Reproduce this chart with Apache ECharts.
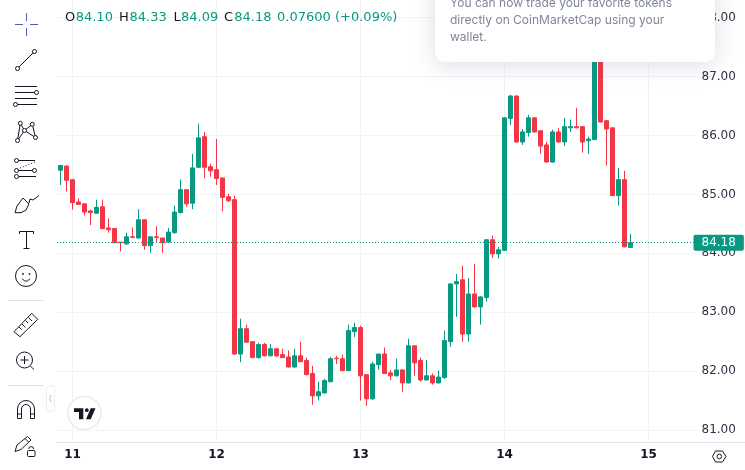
<!Doctype html>
<html>
    <head>
        <meta charset="utf-8">
        <style>
            html, body { margin: 0; padding: 0; background: #fff; }
            #chart { width: 745px; height: 470px; }
        </style>
    </head>
    <body>
        <div id="chart"></div>
        <script src="https://cdn.jsdelivr.net/npm/echarts@6/dist/echarts.min.js"></script>
        <script>
            // Hourly candles
            var opens = [85.41,85.48,85.25,84.87,84.84,84.72,84.68,84.79,84.43,84.42,84.19,84.16,84.28,84.26,84.57,84.13,84.28,84.26,84.19,84.35,84.69,85.08,84.85,85.46,85.98,85.47,85.42,85.28,84.96,84.91,
                82.29,82.72,82.50,82.23,82.45,82.26,82.38,82.28,82.24,82.07,82.26,82.18,81.96,81.58,81.63,81.82,82.22,82.21,82.01,82.67,82.74,81.94,81.53,82.11,82.29,81.97,81.92,82.02,81.80,82.43,
                82.18,81.85,81.92,81.80,81.89,82.50,83.48,83.55,82.63,83.31,83.09,83.25,84.23,83.99,84.05,86.29,86.67,85.89,86.05,86.30,86.08,85.84,85.55,86.06,85.89,86.13,86.15,86.15,85.91,85.93,
                87.50,86.25,86.13,84.98,85.25,84.10];
            var closes = [85.49,85.24,84.86,84.83,84.70,84.69,84.78,84.42,84.40,84.18,84.18,84.28,84.27,84.57,84.13,84.28,84.27,84.18,84.36,84.70,85.08,84.84,85.45,85.96,85.46,85.40,85.27,84.95,84.89,82.29,
                82.72,82.49,82.23,82.45,82.26,82.38,82.26,82.23,82.07,82.26,82.16,81.94,81.58,81.65,81.84,82.21,82.21,82.01,82.69,82.74,81.92,81.53,82.12,82.29,81.96,81.92,82.02,81.80,82.43,82.14,
                81.85,81.92,81.80,81.90,82.52,83.48,83.52,82.63,83.31,83.09,83.26,84.23,83.99,84.06,86.30,86.67,85.89,86.06,86.30,86.06,85.82,85.55,86.06,85.89,86.15,86.15,86.13,85.89,85.94,87.50,
                86.23,86.11,84.98,85.25,84.11,84.18];
            var lows = [85.16,85.05,84.74,84.82,84.64,84.48,84.67,84.41,84.35,84.17,84.03,84.14,84.26,84.25,84.06,84.01,84.18,84.01,84.18,84.33,84.68,84.79,84.75,85.45,85.27,85.30,85.16,84.71,84.87,82.28,
                82.15,82.48,82.22,82.21,82.25,82.25,82.24,82.22,82.06,82.06,82.15,81.93,81.43,81.50,81.62,81.81,82.12,82.00,82.00,82.58,81.50,81.41,81.51,82.02,81.95,81.85,81.91,81.65,81.79,81.92,
                81.82,81.84,81.77,81.79,81.87,82.41,82.92,82.50,82.50,83.08,82.79,83.18,83.92,83.91,84.04,86.18,85.88,85.84,85.98,86.05,85.69,85.54,85.54,85.88,85.82,86.06,86.12,85.71,85.69,85.92,
                86.22,85.49,84.97,84.81,84.10,84.09];
            var highs = [85.50,85.49,85.26,84.93,84.84,84.74,84.91,84.91,84.59,84.43,84.19,84.35,84.44,84.75,84.57,84.28,84.46,84.26,84.43,84.81,85.25,85.08,85.69,86.20,86.06,85.52,85.94,85.28,85.01,84.98,
                82.89,82.79,82.50,82.48,82.48,82.46,82.38,82.38,82.35,82.38,82.50,82.23,82.09,81.82,81.87,82.24,82.26,82.28,82.79,82.82,82.77,81.94,82.16,82.29,82.40,82.02,82.21,82.03,82.55,82.43,
                82.23,82.19,81.96,82.01,82.69,83.49,83.65,83.79,83.58,83.82,83.27,84.24,84.30,84.11,86.31,86.69,86.68,86.11,86.35,86.31,86.09,85.89,86.10,86.13,86.30,86.27,86.47,86.16,85.98,87.60,
                87.60,86.26,86.13,85.45,85.40,84.33];

            var dayTicks = ['11', '12', '13', '14', '15'];
            var priceTicks = [81, 82, 83, 84, 85, 86, 87, 88];
            var lastPrice = 84.18;

            var legendTexts = ['O', '84.10', 'H', '84.33', 'L', '84.09', 'C', '84.18', '0.07600', '(+0.09%)'];
            var legendDark = ['O', 'H', 'L', 'C'];
            var legendX = [65, 75.7, 119, 129.5, 173.5, 181, 224, 234.3, 277, 335];
            var popupLines = ['You can now trade your favorite tokens', 'directly on CoinMarketCap using your', 'wallet.'];

            var UP = '#089981', DOWN = '#F23645', INK = '#131722', GRIDC = '#f2f3f6', SEP = '#e0e3eb';
            var FONT = '"DejaVu Sans", sans-serif';

            // one blank slot in front of the candles, blank room behind them
            var categories = [];
            for (var i = 0; i < 108; i++) {
                categories.push((i - 3) % 24 === 0 && i >= 3 ? dayTicks[(i - 3) / 24] : '');
            }
            var candles = categories.map(function (c, i) {
                var k = i - 1;
                return k >= 0 && k < opens.length ? [opens[k], closes[k], lows[k], highs[k]] : '-';
            });
            var isDay = function (index, value) { return value !== ''; };

            // toolbar helpers
            var ICON = { stroke: INK, lineWidth: 1, fill: null };
            function seg(x1, y1, x2, y2, style) {
                return { type: 'line', silent: true, shape: { x1: x1, y1: y1, x2: x2, y2: y2 }, style: style || ICON };
            }
            function dot(cx, cy, r) {
                return { type: 'circle', silent: true, shape: { cx: cx, cy: cy, r: r || 2 }, style: { stroke: INK, lineWidth: 1, fill: '#fff' } };
            }
            function poly(points, closed) {
                return { type: closed ? 'polygon' : 'polyline', silent: true, shape: { points: points }, style: ICON };
            }
            function arc(cx, cy, r, a, b) {
                return { type: 'arc', silent: true, shape: { cx: cx, cy: cy, r: r, startAngle: a, endAngle: b }, style: ICON };
            }

            var CROSS = { stroke: '#4b5fb8', lineWidth: 1, fill: null };
            var toolbar = [
                // page background for the left strip
                { type: 'rect', silent: true, shape: { x: 0, y: 0, width: 56, height: 470 }, style: { fill: '#fff' } },
                // crosshair
                seg(15, 24.5, 23, 24.5, CROSS), seg(30, 24.5, 38, 24.5, CROSS), seg(26.5, 13, 26.5, 21, CROSS), seg(26.5, 28, 26.5, 36, CROSS),
                // trend line
                seg(17.5, 68.5, 34.5, 51.5), dot(34.5, 51.5), dot(17.5, 68.5),
                // parallel lines
                seg(15, 86.5, 37, 86.5), seg(15, 92.5, 35, 92.5), seg(15, 98.5, 37, 98.5), seg(17, 104.5, 37, 104.5), dot(36.5, 92.5), dot(15.5, 104.5),
                // network
                poly([[17.5, 140.5], [20.3, 123.3], [24.5, 130.5], [35.5, 137.5]]), poly([[17.5, 140.5], [24.5, 130.5], [32.3, 124.3], [35.5, 137.5]]),
                dot(20.3, 123.3), dot(32.3, 124.3), dot(24.5, 130.5), dot(17.5, 140.5), dot(35.5, 137.5),
                // fib
                seg(18, 160.5, 35, 160.5), seg(18, 170.5, 33, 170.5), seg(18, 176.5, 36, 176.5),
                seg(20, 168, 35, 162, { stroke: INK, lineWidth: 1, lineDash: [1, 2], fill: null }),
                dot(16.5, 160.5), dot(16.5, 170.5), dot(34.5, 170.5), dot(16.5, 176.5),
                // brush
                poly([[15, 212.7], [17, 206], [23, 198], [29, 204], [26, 210], [21, 212.7]], true),
                poly([[29, 203], [30, 199], [33, 200], [39, 195.5]]),
                // text tool
                poly([[19.5, 234], [19.5, 231.5], [33.5, 231.5], [33.5, 234]]), seg(26.5, 231.5, 26.5, 248.5), seg(23.5, 248.5, 29.5, 248.5),
                // smiley
                { type: 'circle', silent: true, shape: { cx: 26, cy: 276, r: 10.5 }, style: ICON },
                dot(23, 274, 0.6), dot(29.5, 274, 0.6), arc(26, 277, 4, 0.4, Math.PI - 0.4),
                seg(8, 300.5, 44, 300.5, { stroke: SEP, lineWidth: 1 }),
                // ruler
                poly([[14, 331.7], [31.7, 313.3], [37.7, 319.3], [20, 336.7]], true),
                seg(19, 327, 21.5, 329.5), seg(22, 324, 25.5, 327.5), seg(25.5, 320.5, 28, 323), seg(28.5, 317.5, 32, 321),
                // zoom
                { type: 'circle', silent: true, shape: { cx: 24.5, cy: 360, r: 8 }, style: ICON },
                seg(30.3, 366, 34, 369.5), seg(20.5, 360, 28.5, 360), seg(24.5, 356, 24.5, 364),
                seg(8, 385.5, 44, 385.5, { stroke: SEP, lineWidth: 1 }),
                // collapse handle
                { type: 'rect', silent: true, shape: { x: 46.5, y: 385.5, width: 8, height: 26, r: 3 }, style: { fill: '#fff', stroke: '#eceef2', lineWidth: 1 } },
                seg(51, 395, 49.5, 398.5, { stroke: '#b8bcc6', lineWidth: 1 }), seg(49.5, 398.5, 51, 402, { stroke: '#b8bcc6', lineWidth: 1 }),
                // magnet
                arc(26, 409, 8.5, Math.PI, Math.PI * 2), arc(26, 409, 4.5, Math.PI, Math.PI * 2),
                seg(17.5, 409, 17.5, 418.5), seg(34.5, 409, 34.5, 418.5), seg(21.5, 409, 21.5, 418.5), seg(30.5, 409, 30.5, 418.5),
                seg(17.5, 418.5, 21.5, 418.5), seg(30.5, 418.5, 34.5, 418.5), seg(17.5, 414, 21.5, 414), seg(30.5, 414, 34.5, 414),
                // pencil and lock
                poly([[15, 451.5], [17, 445], [27.5, 436.5], [31, 440], [21, 449.5]], true), seg(25, 438.5, 28.5, 442),
                { type: 'rect', silent: true, shape: { x: 27.5, y: 450.5, width: 7.5, height: 6, r: 1 }, style: ICON },
                arc(31.2, 449, 2.4, Math.PI, Math.PI * 2),
                // watermark logo
                { type: 'circle', silent: true, shape: { cx: 84.5, cy: 413, r: 16.5 }, style: { fill: '#fff', stroke: '#ebebeb', lineWidth: 1.5 } },
                { type: 'polygon', silent: true, shape: { points: [[74, 408.3], [83.3, 408.3], [83.3, 419.3], [79, 419.3], [79, 412], [74, 412]] }, style: { fill: INK } },
                { type: 'circle', silent: true, shape: { cx: 86.8, cy: 410.2, r: 1.9 }, style: { fill: INK } },
                { type: 'polygon', silent: true, shape: { points: [[90.7, 408.3], [95.5, 408.3], [90.7, 419.3], [86, 419.3]] }, style: { fill: INK } },
                // settings hexagon, bottom right
                poly([[712.5, 456.5], [715.5, 451], [722.5, 451], [726, 456.5], [722.5, 462], [715.5, 462]], true),
                { type: 'circle', silent: true, shape: { cx: 719.3, cy: 456.5, r: 2.3 }, style: ICON },
                // axis line reaches the window edge
                seg(56, 442.5, 745, 442.5, { stroke: SEP, lineWidth: 1 })
            ];

            var legend = legendTexts.map(function (t, i) {
                return {
                    type: 'text', silent: true, z: 60, x: legendX[i], y: 11,
                    style: {
                        text: t,
                        fill: legendDark.indexOf(t) >= 0 ? INK : UP,
                        font: '13px "DejaVu Sans", sans-serif'
                    }
                };
            });

            var popup = [{
                type: 'rect', silent: true, z: 100,
                shape: { x: 435, y: -30, width: 280, height: 92, r: 10 },
                style: { fill: '#fff', shadowBlur: 24, shadowColor: 'rgba(88,102,126,0.22)', shadowOffsetY: 3 }
            }].concat(popupLines.map(function (line, i) {
                return {
                    type: 'text', silent: true, z: 101, x: 450, y: -3 + i * 17,
                    style: { text: line, fill: '#7f8797', font: '12px Inter, sans-serif' }
                };
            }));

            var chart = echarts.init(document.getElementById('chart'), null, { renderer: 'canvas' });
            chart.setOption({
                animation: false,
                backgroundColor: '#fff',
                grid: { left: 54.5, right: 48.5, top: -0.2, bottom: 28.2, containLabel: false },
                xAxis: {
                    type: 'category',
                    data: categories,
                    boundaryGap: false,
                    axisLine: { show: false },
                    axisTick: { show: false },
                    axisLabel: {
                        interval: isDay,
                        margin: 7.5,
                        color: INK,
                        fontFamily: FONT,
                        fontSize: 12,
                        fontWeight: 'bold'
                    },
                    splitLine: { show: true, interval: isDay, lineStyle: { color: GRIDC, width: 1 } }
                },
                yAxis: {
                    type: 'value',
                    position: 'right',
                    min: 80.8,
                    max: 88.3,
                    axisLine: { show: false },
                    axisTick: { show: false, customValues: priceTicks },
                    axisLabel: {
                        customValues: priceTicks,
                        margin: 5,
                        padding: [2, 0, 0, 0],
                        color: '#2e3240',
                        fontFamily: FONT,
                        fontSize: 12,
                        formatter: function (v) { return v.toFixed(2); }
                    },
                    splitLine: { show: true, lineStyle: { color: GRIDC, width: 1 } }
                },
                series: [{
                    type: 'candlestick',
                    data: candles,
                    barWidth: 5,
                    itemStyle: {
                        color: UP,
                        color0: DOWN,
                        borderColor: UP,
                        borderColor0: DOWN,
                        borderWidth: 1
                    },
                    markLine: {
                        silent: true,
                        symbol: 'none',
                        animation: false,
                        lineStyle: { color: UP, type: [1, 2], dashOffset: 0.5, width: 1 },
                        label: {
                            show: true,
                            position: 'end',
                            distance: -3,
                            formatter: lastPrice.toFixed(2),
                            color: '#fff',
                            fontFamily: FONT,
                            fontSize: 12,
                            backgroundColor: UP,
                            padding: [2, 8, 2, 8],
                            borderRadius: 2
                        },
                        data: [{ yAxis: lastPrice }]
                    }
                }],
                graphic: { elements: toolbar.map(function (el) { el.z = 50; return el; }).concat(legend, popup) }
            });
        </script>
    </body>
</html>
